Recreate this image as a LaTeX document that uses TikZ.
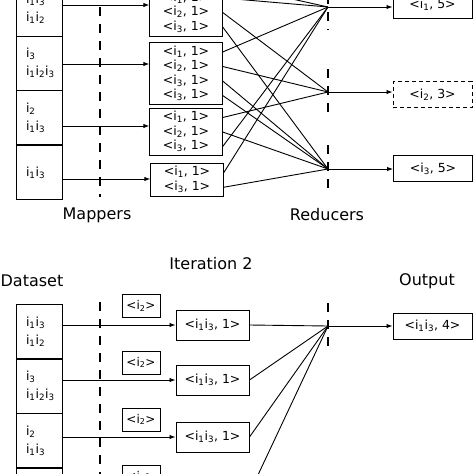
\documentclass[tikz,border=0pt]{standalone}
\usepackage{fontspec}
\setmainfont{DejaVu Sans}
\usetikzlibrary{arrows.meta,fit}
\newcommand{\ii}[1]{i\textsubscript{#1}}
\tikzset{
  databox/.style={draw, line width=1pt, minimum width=46pt, minimum height=54pt, inner xsep=10pt, inner ysep=0pt, text width=26pt, align=left, font=\fontsize{12.5}{18}\selectfont},
  kvrow/.style={inner sep=0pt, minimum width=70pt, minimum height=14.5pt, text height=9pt, text depth=3pt, font=\fontsize{12.5}{14.5}\selectfont},
  kvbox/.style={draw, line width=1pt, inner xsep=1pt, inner ysep=2pt},
  pairbox/.style={draw, line width=1pt, minimum width=73pt, minimum height=30pt, inner sep=0pt, font=\fontsize{12.5}{14.5}\selectfont},
  filterbox/.style={draw, line width=0.8pt, minimum width=38pt, minimum height=23pt, inner sep=0pt, font=\fontsize{12}{14}\selectfont},
  outbox/.style={draw, line width=1pt, minimum width=79pt, minimum height=26pt, inner sep=0pt, font=\fontsize{12.5}{14.5}\selectfont},
  tag/.style={font=\fontsize{16}{19}\selectfont, inner sep=0pt, text height=11.5pt, text depth=3.5pt},
  splitline/.style={line width=1.1pt, dash pattern=on 9pt off 8pt},
  feed/.style={line width=0.9pt, -{Latex[length=6pt,width=4.5pt]}},
  link/.style={line width=0.9pt}
}
\begin{document}
\begin{tikzpicture}[x=1pt,y=-1pt]
\useasboundingbox (0,0) rectangle (474,474);
\clip (0,0) rectangle (474,474);

% Iteration 1: dataset
\node[databox] (d1) at (39,9) {\ii1\ii3\\\ii1\ii2};
\node[databox] (d2) at (39,63) {\ii3\\\ii1\ii2\ii3};
\node[databox] (d3) at (39,117.5) {\ii2\\\ii1\ii3};
\node[databox] (d4) at (39,172.5) {\ii1\ii3};

% mapper split
\draw[splitline] (100,-10) -- (100,197);

% mapper output
\node[kvrow] (m1a) at (186,-16.5) {<\ii1, 1>};
\node[kvrow] (m1b) at (186,-2) {<\ii1, 1>};
\node[kvrow] (m1c) at (186,12.5) {<\ii2, 1>};
\node[kvrow] (m1d) at (186,27) {<\ii3, 1>};
\node[kvbox, fit=(m1a)(m1d)] (m1) {};
\node[kvrow] (m2a) at (186,52) {<\ii1, 1>};
\node[kvrow] (m2b) at (186,66.5) {<\ii2, 1>};
\node[kvrow] (m2c) at (186,81) {<\ii3, 1>};
\node[kvrow] (m2d) at (186,95.5) {<\ii3, 1>};
\node[kvbox, fit=(m2a)(m2d)] (m2) {};
\node[kvrow] (m3a) at (186,117.5) {<\ii1, 1>};
\node[kvrow] (m3b) at (186,132) {<\ii2, 1>};
\node[kvrow] (m3c) at (186,146.5) {<\ii3, 1>};
\node[kvbox, fit=(m3a)(m3c)] (m3) {};
\node[kvrow] (m4a) at (187,172.75) {<\ii1, 1>};
\node[kvrow] (m4b) at (187,187.25) {<\ii3, 1>};
\node[kvbox, fit=(m4a)(m4b)] (m4) {};

\draw[feed] (d1.east |- 0,5) -- (m1.west |- 0,5);
\draw[feed] (d2.east |- 0,64) -- (m2.west |- 0,64);
\draw[feed] (d3.east |- 0,126) -- (m3.west |- 0,126);
\draw[feed] (d4.east |- 0,179) -- (m4.west |- 0,179);

% reducers
\coordinate (r1) at (328,7);
\coordinate (r2) at (328,92);
\coordinate (r3) at (328,169);
\draw[splitline] (328,-5) -- (328,30);
\draw[splitline] (328,69) -- (328,113);
\draw[splitline] (328,145) -- (328,192);

\draw[link] (m1a.east -| m1.east) -- (r1);
\draw[link] (m1b.east -| m1.east) -- (r1);
\draw[link] (m1c.east -| m1.east) -- (r2);
\draw[link] (m1d.east -| m1.east) -- (r3);
\draw[link] (m2a.east -| m2.east) -- (r1);
\draw[link] (m2b.east -| m2.east) -- (r2);
\draw[link] (m2c.east -| m2.east) -- (r3);
\draw[link] (m2d.east -| m2.east) -- (r3);
\draw[link] (m3a.east -| m3.east) -- (r2);
\draw[link] (m3b.east -| m3.east) -- (r3);
\draw[link] (m3c.east -| m3.east) -- (r1);
\draw[link] (m4a.east -| m4.east) -- (r1);
\draw[link] (m4b.east -| m4.east) -- (r3);

% reducer output
\node[outbox] (o1) at (432.5,5) {<\ii1, 5>};
\node[outbox, dash pattern=on 4pt off 3pt] (o2) at (432.5,94.5) {<\ii2, 3>};
\node[outbox] (o3) at (433,168.5) {<\ii3, 5>};
\draw[feed] (r1) -- (r1 -| o1.west);
\draw[feed] (r2) -- (r2 -| o2.west);
\draw[feed] (r3) -- (r3 -| o3.west);

\node[tag] (mappers) at (97,215) {Mappers};
\node[tag] (reducers) at (327,216) {Reducers};

% Iteration 2
\node[tag] (dataset) at (32,282) {Dataset};
\node[tag] (iteration) at (211,265) {Iteration 2};
\node[tag] (output) at (427,281) {Output};

\node[databox] (e1) at (39,331.5) {\ii1\ii3\\\ii1\ii2};
\node[databox] (e2) at (39,386) {\ii3\\\ii1\ii2\ii3};
\node[databox] (e3) at (39,440.5) {\ii2\\\ii1\ii3};
\node[databox] (e4) at (39,495) {\ii1\ii3};

\draw[splitline] (100,302) -- (100,480);

\node[filterbox] (f1) at (141,306) {<\ii2>};
\node[filterbox] (f2) at (141,362.5) {<\ii2>};
\node[filterbox] (f3) at (141,419.5) {<\ii2>};
\node[filterbox] (f4) at (141,476.5) {<\ii2>};

\node[pairbox] (g1) at (212.5,325) {<\ii1\ii3, 1>};
\node[pairbox] (g2) at (212.5,380) {<\ii1\ii3, 1>};
\node[pairbox] (g3) at (212.5,437) {<\ii1\ii3, 1>};
\node[pairbox] (g4) at (212.5,493) {<\ii1\ii3, 1>};

\draw[feed] (e1.east |- g1.west) -- (g1.west);
\draw[feed] (e2.east |- g2.west) -- (g2.west);
\draw[feed] (e3.east |- g3.west) -- (g3.west);
\draw[feed] (e4.east |- g4.west) -- (g4.west);

\coordinate (r4) at (328,326);
\draw[splitline] (328,303) -- (328,348);
\draw[link] (g1.east) -- (r4);
\draw[link] (g2.east) -- (r4);
\draw[link] (g3.east) -- (r4);
\draw[link] (g4.east) -- (r4);

\node[outbox] (o4) at (432.5,326) {<\ii1\ii3, 4>};
\draw[feed] (r4) -- (r4 -| o4.west);
\end{tikzpicture}
\end{document}
